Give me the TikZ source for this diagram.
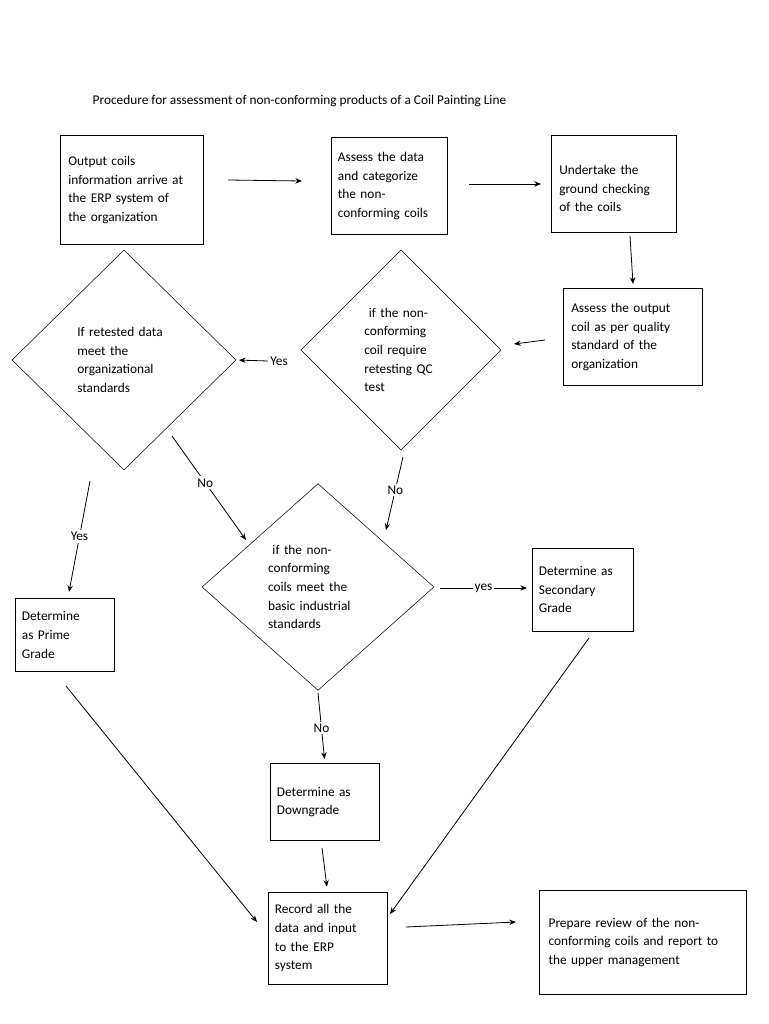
\documentclass[tikz,border=0pt]{standalone}
\usepackage{fontspec}
\setmainfont{Carlito}
\usetikzlibrary{shapes.geometric}
\usetikzlibrary{arrows.meta}
\tikzstyle{stepbox} = [draw, rectangle, anchor=north west, align=left, inner sep=0pt, font=\fontsize{10}{14}\selectfont]
\tikzstyle{decide} = [draw, diamond, align=left, inner sep=0pt, font=\fontsize{10}{14}\selectfont]
\tikzstyle{flow} = [-{Stealth[length=5pt,width=4pt]}, line width=0.6pt]
\tikzstyle{lbl} = [fill=white, inner sep=1.5pt, font=\fontsize{10}{14}\selectfont]

\begin{document}
\begin{tikzpicture}[x=0.75pt, y=-0.75pt]
    \useasboundingbox (0,0) rectangle (768,1024);
    \node[anchor=west, font=\fontsize{10}{14}\selectfont] (title) at (88,101) {Procedure for assessment of non-conforming products of a Coil Painting Line};

    % top row
    \node[stepbox, minimum width=107pt, minimum height=82pt, text width=95pt] (arrive) at (60,135) {Output coils\\information arrive at\\the ERP system of\\the organization};
    \node[stepbox, minimum width=87pt, minimum height=73pt, text width=77pt] (assess) at (331,137) {Assess the data\\and categorize\\the non-\\conforming coils};
    \node[stepbox, minimum width=94pt, minimum height=73pt, text width=82pt] (ground) at (551,135) {\\Undertake the\\ground checking\\of the coils\\[6pt]};
    \node[stepbox, minimum width=104pt, minimum height=73pt, text width=92pt] (quality) at (563,288) {Assess the output\\coil as per quality\\standard of the\\organization};

    % decisions
    \node[decide, minimum width=168pt, minimum height=165pt, text width=70pt] (retest) at (124,360) {If retested data\\meet the\\organizational\\standards};
    \node[decide, minimum width=150pt, minimum height=150pt, text width=55pt] (require) at (401,350) {\ if the non-\\conforming\\coil require\\retesting QC\\test};
    \node[decide, minimum width=174pt, minimum height=155pt, text width=75pt] (basic) at (318,587) {\ if the non-\\conforming\\coils meet the\\basic industrial\\standards};

    % grades
    \node[stepbox, minimum width=74pt, minimum height=55pt, text width=64pt] (prime) at (15,598) {Determine\\as Prime\\Grade};
    \node[stepbox, minimum width=76pt, minimum height=62pt, text width=66pt] (second) at (532,548) {Determine as\\Secondary\\Grade\\[4pt]};
    \node[stepbox, minimum width=82pt, minimum height=58pt, text width=72pt] (down) at (270,763) {Determine as\\Downgrade\\[10pt]};
    \node[stepbox, minimum width=89pt, minimum height=69pt, text width=79pt] (record) at (268,892) {Record all the\\data and input\\to the ERP\\system};
    \node[stepbox, minimum width=155pt, minimum height=78pt, text width=141pt] (report) at (539,890) {Prepare review of the non-\\conforming coils and report to\\the upper management\\[8pt]};

    % loose arrow ends
    \coordinate (arriveout) at (228,180);
    \coordinate (assessin) at (302,181);
    \coordinate (assessout) at (469,184);
    \coordinate (groundin) at (541,184);
    \coordinate (groundout) at (630,236);
    \coordinate (qualityin) at (633,284);
    \coordinate (qualityout) at (545,340);
    \coordinate (requirein) at (514,344);
    \coordinate (requireleft) at (268,361);
    \coordinate (requiredown) at (403,457);
    \coordinate (basictop) at (386,530);
    \coordinate (retestright) at (172,436);
    \coordinate (basicleft) at (246,540);
    \coordinate (retestdown) at (90,481);
    \coordinate (primein) at (69,592);
    \coordinate (basicright) at (440,588);
    \coordinate (secondin) at (527,588);
    \coordinate (basicdown) at (318,693);
    \coordinate (primeout) at (66,686);
    \coordinate (recordleft) at (257,922);
    \coordinate (secondout) at (589,638);
    \coordinate (recordright) at (390,914);
    \coordinate (downout) at (322,848);
    \coordinate (recordout) at (406,927);
    \coordinate (reportin) at (516,922);

    % connectors
    \draw[flow] (arriveout) -- (assessin);
    \draw[flow] (assessout) -- (groundin);
    \draw[flow] (groundout) -- (qualityin);
    \draw[flow] (qualityout) -- (requirein);
    \draw[flow, shorten >=2pt] (requireleft) -- node[lbl, pos=0, anchor=west] {Yes} (retest.east);
    \draw[flow] (requiredown) -- node[lbl, pos=0.45] {No} (basictop);
    \draw[flow] (retestright) -- node[lbl, pos=0.45] {No} (basicleft);
    \draw[flow] (retestdown) -- node[lbl, pos=0.5] {Yes} (primein);
    \draw[flow] (basicright) -- node[lbl] {yes} (secondin);
    \draw[flow, shorten >=3pt] (basicdown) -- node[lbl] {No} (down.north);
    \draw[flow] (primeout) -- (recordleft);
    \draw[flow] (secondout) -- (recordright);
    \draw[flow, shorten >=4pt] (downout) -- (record.north);
    \draw[flow] (recordout) -- (reportin);
\end{tikzpicture}
\end{document}
